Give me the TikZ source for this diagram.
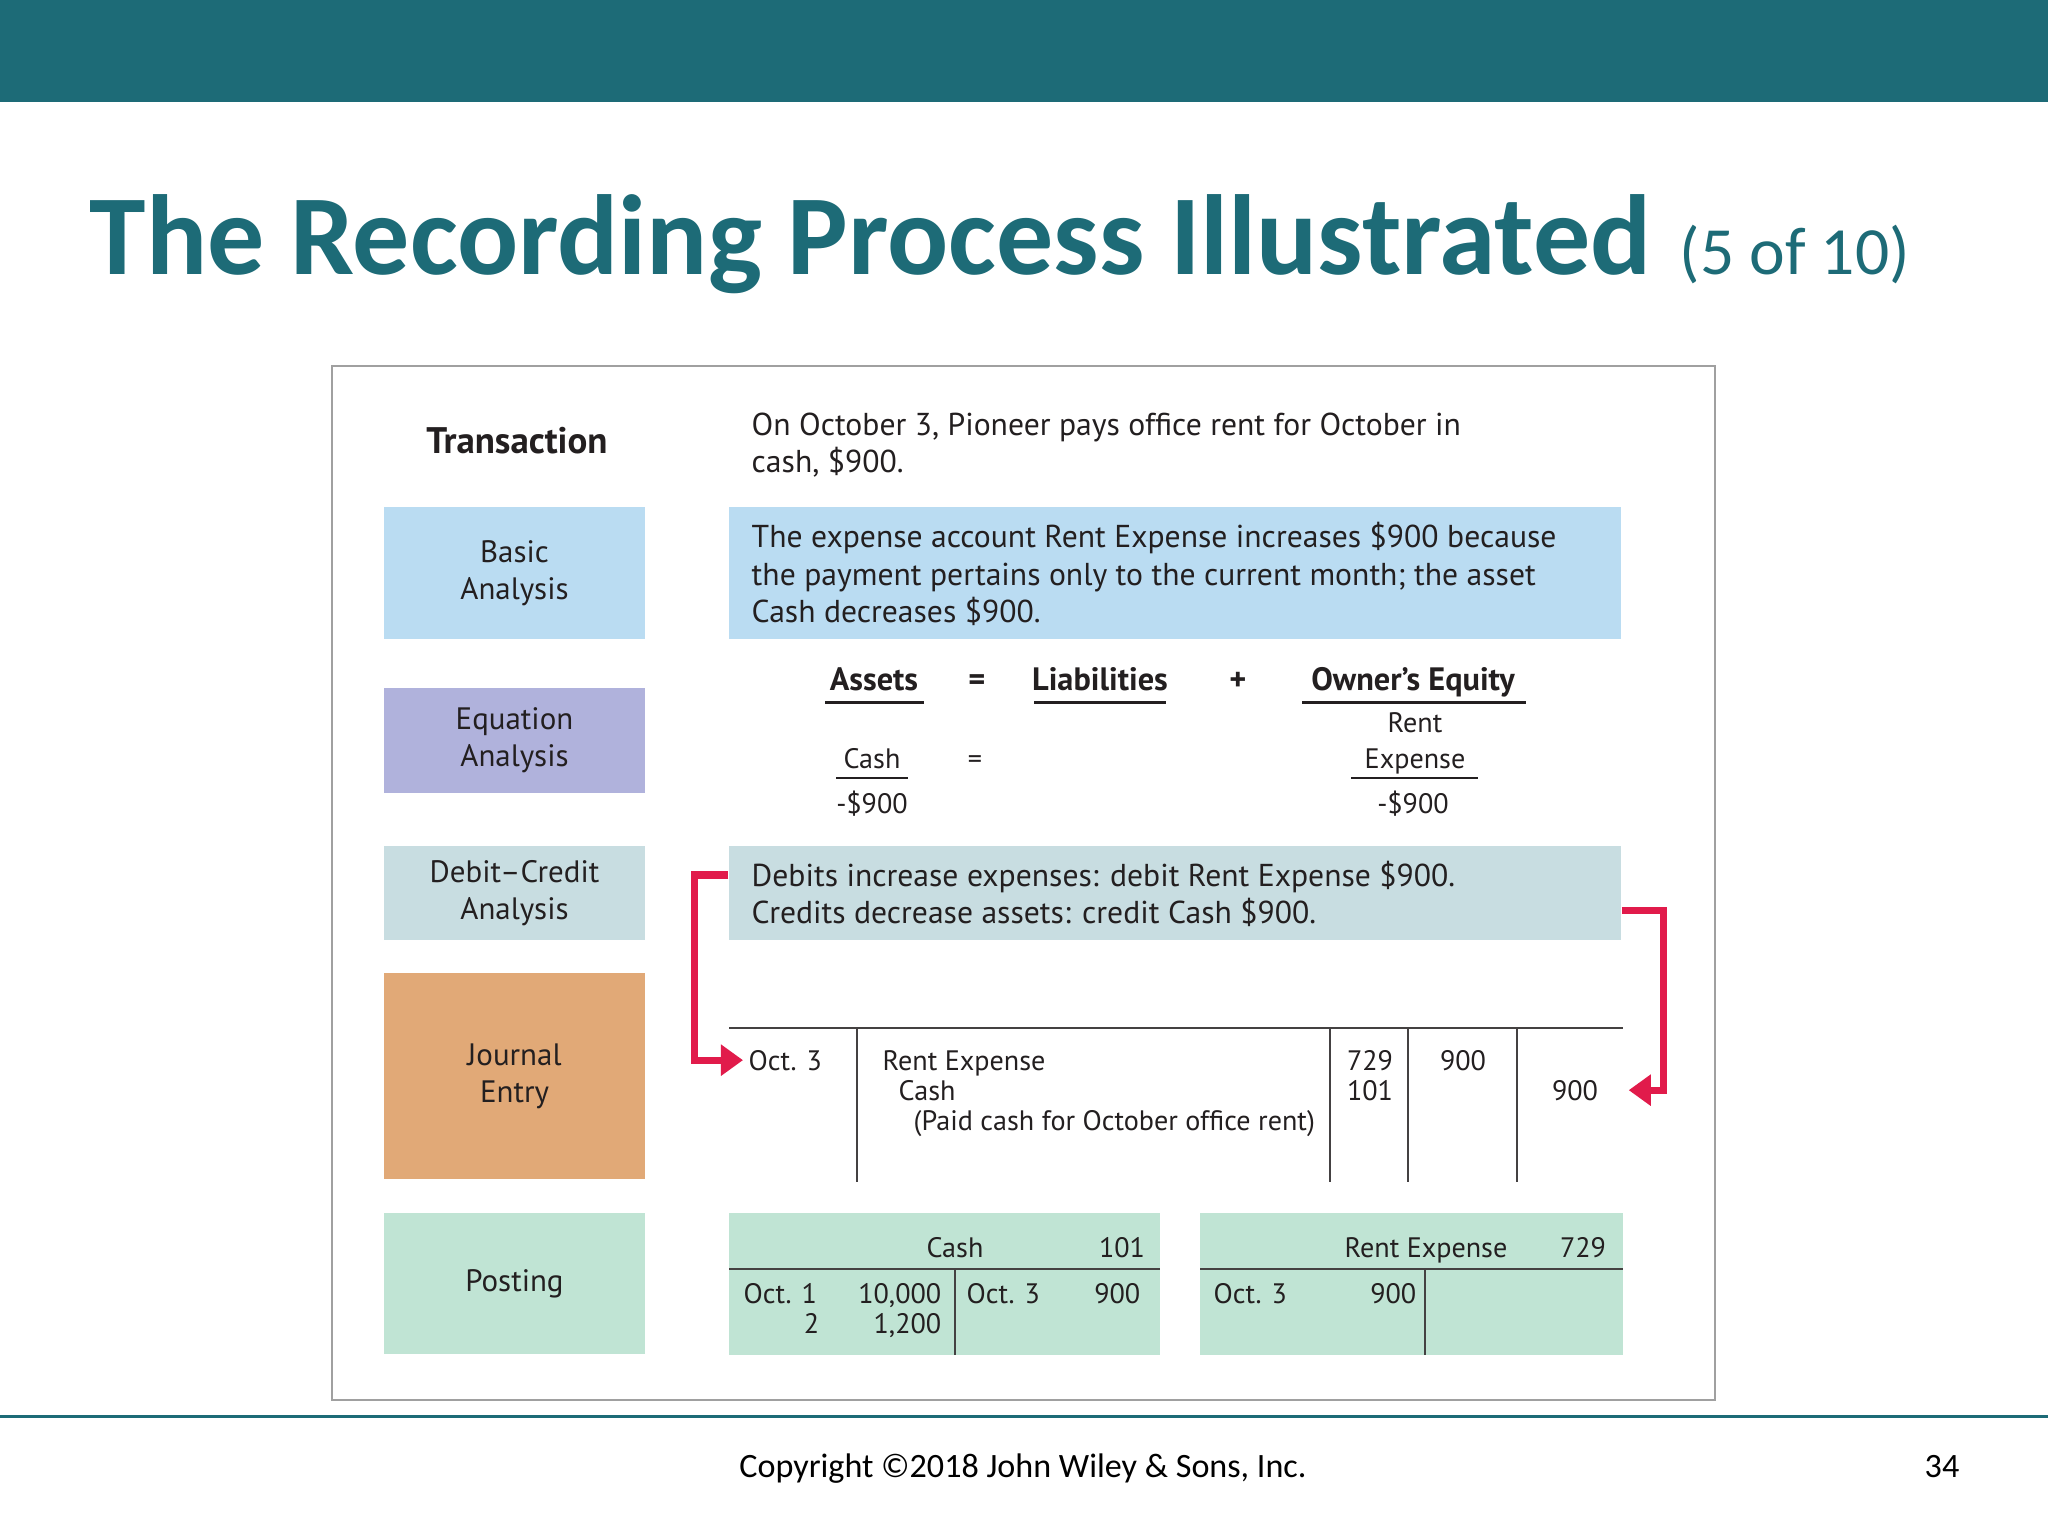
\documentclass[tikz,border=0pt]{standalone}
\usepackage{fontspec}
\setmainfont{PT Sans}
\newfontfamily\slidefont{Carlito}
\usetikzlibrary{arrows.meta}
\definecolor{barteal}{HTML}{1D6B77}
\definecolor{basicblue}{HTML}{BADCF2}
\definecolor{eqpurple}{HTML}{B0B2DC}
\definecolor{dcgray}{HTML}{C8DDE1}
\definecolor{journalorange}{HTML}{E1A977}
\definecolor{postgreen}{HTML}{C0E4D4}
\definecolor{arrowred}{HTML}{E11B4B}
\definecolor{framegray}{HTML}{A0A0A0}
\definecolor{ink}{HTML}{231F20}
\newcommand\bodyfont{\fontsize{9}{10.7}\selectfont}
\newcommand\cellfont{\fontsize{8}{10}\selectfont}
\newcommand\labelfont{\fontsize{8.8}{10.5}\selectfont}
\tikzset{
  stage/.style={minimum width=2.6cm, align=center, font=\labelfont, text=ink, inner sep=0pt},
  panel/.style={minimum width=8.92cm, inner sep=0pt},
  bodytext/.style={font=\bodyfont, text=ink, align=left, inner sep=0pt},
  eqhead/.style={font=\fontsize{9.2}{11}\selectfont\bfseries, text=ink, anchor=base, inner sep=0pt},
  eqcell/.style={font=\cellfont, text=ink, anchor=base, inner sep=0pt},
  flow/.style={draw=arrowred, line width=2pt, -{Triangle[length=2.2mm,width=3mm]}},
  rule/.style={draw=ink!85, line width=0.6pt}
}
\begin{document}
\begin{tikzpicture}[x=0.01cm, y=-0.01cm]
    \useasboundingbox (0,0) rectangle (2048,1536);
    \fill[white] (0,0) rectangle (2048,1536);
    % slide frame
    \fill[barteal] (0,0) rectangle (2048,102);
    \node[anchor=base west, inner sep=0pt, text=barteal, font=\slidefont\fontsize{32.4}{36}\selectfont\bfseries] (title) at (89,274)
        {The Recording Process Illustrated\hspace{8pt}{\mdseries\fontsize{19.2}{22}\selectfont(5 of 10)}};
    \draw[barteal, line width=0.85pt] (0,1416) -- (2048,1416);
    \node[anchor=base, inner sep=0pt, font=\slidefont\fontsize{9.7}{11}\selectfont] (copy) at (1023,1477) {Copyright ©2018 John Wiley \& Sons, Inc.};
    \node[anchor=base, inner sep=0pt, font=\slidefont\fontsize{9.7}{11}\selectfont] (page) at (1942,1477) {34};
    \draw[framegray, line width=0.8pt] (332,366) rectangle (1715,1400);
    % left column
    \node[stage, font=\fontsize{10.5}{12}\selectfont\bfseries, anchor=base] (trans) at (517,453) {Transaction};
    \node[stage, fill=basicblue, minimum height=1.32cm] (basic) at (514.5,573) {Basic\\Analysis};
    \node[stage, fill=eqpurple, minimum height=1.05cm] (equation) at (514.5,740.5) {Equation\\Analysis};
    \node[stage, fill=dcgray, minimum height=0.94cm] (debitcredit) at (514.5,893) {Debit--Credit\\Analysis};
    \node[stage, fill=journalorange, minimum height=2.06cm] (journal) at (514.5,1076) {Journal\\Entry};
    \node[stage, fill=postgreen, minimum height=1.41cm] (posting) at (514.5,1283.5) {Posting};
    % transaction and analysis texts
    \node[bodytext, anchor=west] (transtext) at (751,445)
        {On October 3, Pioneer pays office rent for October in\\cash, \$900.};
    \node[panel, fill=basicblue, minimum height=1.32cm] (basicbox) at (1175,573) {};
    \node[bodytext, anchor=west] (basictext) at (751,574)
        {The expense account Rent Expense increases \$900 because\\the payment pertains only to the current month; the asset\\Cash decreases \$900.};
    % equation
    \node[eqhead] (assets) at (874,690) {Assets};
    \node[eqhead] (eqsign) at (977,690) {=};
    \node[eqhead] (liab) at (1100,690) {Liabilities};
    \node[eqhead] (plus) at (1238,690) {+};
    \node[eqhead] (equity) at (1413,690) {Owner's Equity};
    \draw[ink, line width=0.85pt] (825,702) -- (924,702);
    \draw[ink, line width=0.85pt] (1034,702) -- (1166,702);
    \draw[ink, line width=0.85pt] (1302,702) -- (1526,702);
    \node[eqcell] (rent) at (1415,732) {Rent};
    \node[eqcell] (cash) at (872,768) {Cash};
    \node[eqcell] (eqsigntwo) at (975,768) {=};
    \node[eqcell] (expense) at (1415,768) {Expense};
    \draw[ink, line width=0.35pt] (836,778) -- (908,778);
    \draw[ink, line width=0.35pt] (1351,778) -- (1478,778);
    \node[eqcell] (cashamt) at (872,813) {-\$900};
    \node[eqcell] (expamt) at (1413,813) {-\$900};
    % debit-credit
    \node[panel, fill=dcgray, minimum height=0.94cm] (dcbox) at (1175,893) {};
    \node[bodytext, anchor=west] (dctext) at (751,894)
        {Debits increase expenses: debit Rent Expense \$900.\\Credits decrease assets: credit Cash \$900.};
    % journal entry
    \draw[rule] (729,1028) -- (1623,1028);
    \foreach \x in {857,1330,1408,1517}
        \draw[ink!85, line width=0.45pt] (\x,1028) -- (\x,1182);
    \node[eqcell, anchor=base west] (jdate) at (748,1070) {Oct. 3};
    \node[eqcell, anchor=base west] (jdebit) at (882,1070) {Rent Expense};
    \node[eqcell, anchor=base west] (jcredit) at (898,1100) {Cash};
    \node[eqcell, anchor=base west] (jmemo) at (913,1130) {(Paid cash for October office rent)};
    \node[eqcell] (jref) at (1370,1070) {729};
    \node[eqcell] (jreftwo) at (1370,1100) {101};
    \node[eqcell] (jdr) at (1463,1070) {900};
    \node[eqcell] (jcr) at (1575,1100) {900};
    \draw[flow] ([yshift=1.8mm]dcbox.west) -- ++(-34,0) |- ([xshift=-0.5mm]jdate.west);
    \draw[flow] ([yshift=-1.7mm]dcbox.east) -- ++(42,0) |- ([xshift=3mm]jcr.east);
    % posting: cash account
    \node[minimum width=4.31cm, minimum height=1.42cm, fill=postgreen, inner sep=0pt] (cashacct) at (944.5,1284) {};
    \draw[rule] (729,1269) -- (1160,1269);
    \draw[ink!85, line width=0.45pt] (955,1269) -- (955,1355);
    \node[eqcell] (cashhead) at (955,1257) {Cash};
    \node[eqcell] (cashno) at (1122,1257) {101};
    \node[eqcell, anchor=base west] (cdateone) at (743,1303) {Oct. 1};
    \node[eqcell, anchor=base east] (camtone) at (942,1303) {10,000};
    \node[eqcell, anchor=base east] (cdatetwo) at (820,1333) {2};
    \node[eqcell, anchor=base east] (camttwo) at (942,1333) {1,200};
    \node[eqcell, anchor=base west] (cdatecr) at (966,1303) {Oct. 3};
    \node[eqcell, anchor=base east] (camtcr) at (1141,1303) {900};
    % posting: rent expense account
    \node[minimum width=4.23cm, minimum height=1.42cm, fill=postgreen, inner sep=0pt] (rentacct) at (1411.5,1284) {};
    \draw[rule] (1200,1269) -- (1623,1269);
    \draw[ink!85, line width=0.45pt] (1425,1269) -- (1425,1355);
    \node[eqcell] (renthead) at (1426,1257) {Rent Expense};
    \node[eqcell] (rentno) at (1583,1257) {729};
    \node[eqcell, anchor=base west] (rdate) at (1213,1303) {Oct. 3};
    \node[eqcell, anchor=base east] (ramt) at (1417,1303) {900};
\end{tikzpicture}
\end{document}
